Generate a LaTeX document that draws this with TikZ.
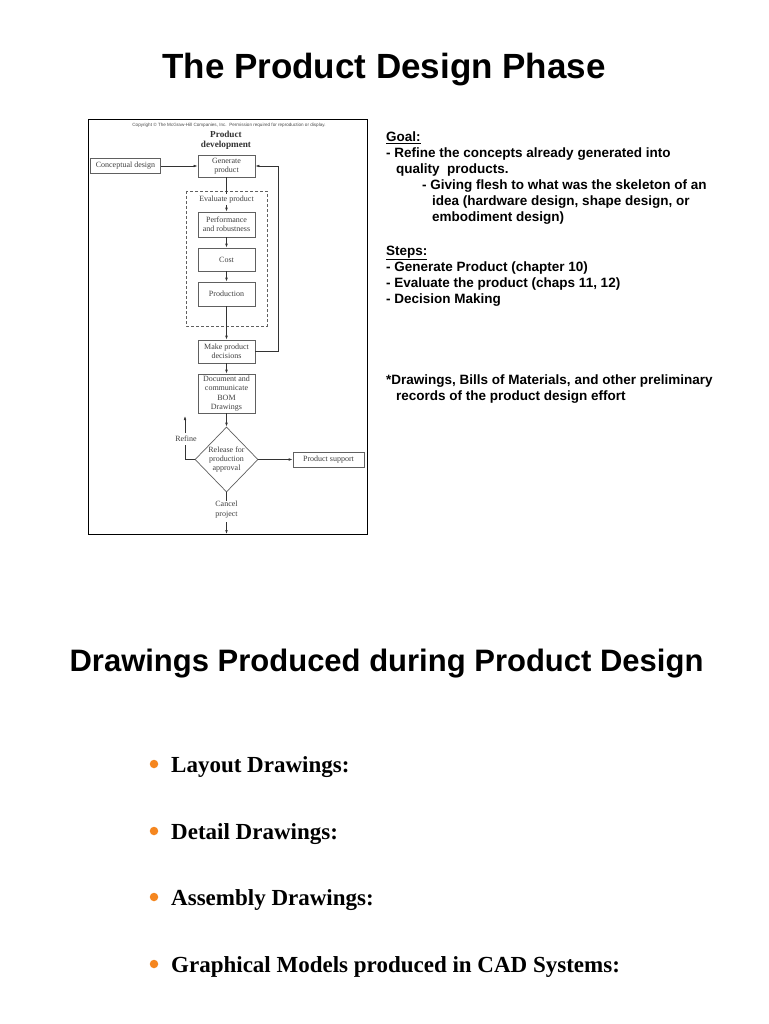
\documentclass[tikz,border=0pt]{standalone}
\usepackage{fontspec}
\setmainfont{Liberation Sans}
\newfontfamily\tms{Liberation Serif}
\usetikzlibrary{shapes.geometric,arrows.meta}
\definecolor{bulletorange}{HTML}{F5861F}
\definecolor{figgray}{HTML}{606060}
\tikzset{
  fbox/.style={draw=figgray, line width=0.7pt, minimum width=57pt, align=center, font=\tms\fontsize{8}{9.3}\selectfont, text=black!75, inner sep=1pt},
  flow/.style={draw=black!80, line width=0.6pt, -{Latex[length=4pt,width=2.6pt]}},
  fline/.style={draw=black!80, line width=0.6pt},
  rtext/.style={anchor=base west, font=\bfseries\fontsize{13.5}{16}\selectfont, inner sep=0pt},
  bullettext/.style={anchor=base west, font=\tms\bfseries\fontsize{23}{26}\selectfont, inner sep=0pt},
  bdot/.style={circle, fill=bulletorange, minimum size=8.5pt, inner sep=0pt},
}
\begin{document}
\begin{tikzpicture}[x=1pt,y=-1pt]
\useasboundingbox (0,0) rectangle (768,1024);
\fill[white] (0,0) rectangle (768,1024);

% Title 1
\node[font=\bfseries\fontsize{35}{40}\selectfont, inner sep=0pt] (t1) at (384,70) {The Product Design Phase};

% figure frame
\draw[line width=1pt] (88,119.5) rectangle (367,534);
\node[font=\fontsize{4.6}{5}\selectfont, text=black!70, inner sep=0pt] (copy) at (229,125) {Copyright \textcopyright{} The McGraw-Hill Companies, Inc.\ \ Permission required for reproduction or display.};
\node[font=\tms\bfseries\fontsize{9.2}{9.6}\selectfont, align=center, text=black!80, inner sep=0pt] (pd) at (226,140.5) {Product\\development};

\node[fbox, minimum width=70pt, minimum height=15pt] (cd) at (125.5,166) {Conceptual design};
\node[fbox, minimum height=22pt] (gp) at (226.5,166) {Generate\\product};
\draw[draw=figgray, dashed, line width=0.7pt, dash pattern=on 3pt off 2pt] (186,191) rectangle (267,326);
\node[font=\tms\fontsize{8}{9}\selectfont, text=black!75, inner sep=1.5pt] (ev) at (226.5,199.5) {Evaluate product};
\node[fbox, minimum height=25pt] (perf) at (226.5,224.5) {Performance\\and robustness};
\node[fbox, minimum height=23pt] (cost) at (226.5,259.5) {Cost};
\node[fbox, minimum height=24pt] (prod) at (226.5,294) {Production};
\node[fbox, minimum height=23pt] (mpd) at (226.5,351.5) {Make product\\decisions};
\node[fbox, minimum height=39pt] (doc) at (226.5,393.5) {Document and\\communicate\\BOM\\Drawings};
\node[diamond, draw=figgray, line width=0.7pt, minimum width=63pt, minimum height=65pt, inner sep=0pt, align=center, font=\tms\fontsize{8}{9.3}\selectfont, text=black!75] (rel) at (226.5,459.5) {Release for\\production\\approval};
\node[fbox, minimum width=71pt, minimum height=15pt] (ps) at (328.5,459.5) {Product support};
\node[font=\tms\fontsize{8}{9}\selectfont, text=black!75, inner sep=0pt] (ref) at (186,439) {Refine};
\node[font=\tms\fontsize{8}{9.3}\selectfont, text=black!75, align=center, inner sep=0pt] (cp) at (226.5,509.5) {Cancel\\project};
\coordinate (bottom) at (226.5,534);
\coordinate (fbR) at (278,351.5);
\coordinate (fbT) at (278,166);
\coordinate (rfL) at (185,459.5);
\coordinate (rfM) at (185,445);
\coordinate (rfS) at (185,433);
\coordinate (rfT) at (185,416);
\coordinate (cpB) at (226.5,522);

\draw[flow] (cd) -- (gp);
\draw[fline] (gp) -- (ev.north);
\draw[flow] (ev.south) -- (perf);
\draw[flow] (perf) -- (cost);
\draw[flow] (cost) -- (prod);
\draw[flow] (prod) -- (mpd);
\draw[flow] (mpd) -- (doc);
\draw[flow] (doc) -- (rel);
\draw[flow] (rel) -- (ps);
\draw[flow] (mpd.east) -- (fbR) -- (fbT) -- (gp.east);
\draw[fline] (rel.west) -- (rfL) -- (rfM);
\draw[flow] (rfS) -- (rfT);
\draw[fline] (rel.south) -- (cp.north);
\draw[flow] (cpB) -- (bottom);

% right text
\node[rtext] (g1) at (386,142) {\underline{Goal:}};
\node[rtext] (g2) at (386,158) {- Refine the concepts already generated into};
\node[rtext] (g3) at (396,174) {quality\ \ products.};
\node[rtext] (g4) at (422,190) {- Giving flesh to what was the skeleton of an};
\node[rtext] (g5) at (432,206) {idea (hardware design, shape design, or};
\node[rtext] (g6) at (432,222) {embodiment design)};
\node[rtext] (s1) at (386,255) {\underline{Steps:}};
\node[rtext] (s2) at (386,271) {- Generate Product (chapter 10)};
\node[rtext] (s3) at (386,287) {- Evaluate the product (chaps 11, 12)};
\node[rtext] (s4) at (386,303) {- Decision Making};
\node[rtext] (n1) at (386,384) {*Drawings, Bills of Materials, and other preliminary};
\node[rtext] (n2) at (396,400) {records of the product design effort};

% Title 2
\node[font=\bfseries\fontsize{31}{36}\selectfont, inner sep=0pt] (t2) at (386.5,664) {Drawings Produced during Product Design};

% bullets
\node[bdot] (b1) at (154,764) {};
\node[bdot] (b2) at (154,831) {};
\node[bdot] (b3) at (154,897) {};
\node[bdot] (b4) at (154,964) {};
\node[bullettext] (l1) at (171,772) {Layout Drawings:};
\node[bullettext] (l2) at (171,839) {Detail Drawings:};
\node[bullettext] (l3) at (171,905) {Assembly Drawings:};
\node[bullettext] (l4) at (171,972) {Graphical Models produced in CAD Systems:};
\end{tikzpicture}
\end{document}
